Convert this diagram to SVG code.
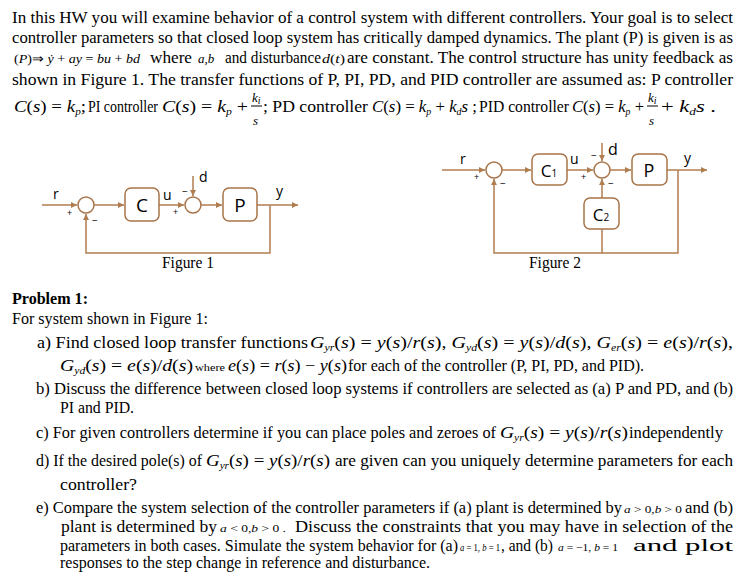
<svg xmlns="http://www.w3.org/2000/svg" width="745" height="574" viewBox="0 0 745 574">
<style>
text{font-family:"Liberation Serif",serif;font-size:16px;fill:#000}
.i{font-style:italic}
.s{font-size:10px}
.m{font-size:13px}
.f{font-size:17px}
.w{font-size:11px}
.b{font-weight:bold}
.l{font-family:"Open Sans","Liberation Sans",sans-serif;font-size:14px}
.bx{fill:#fff;stroke:#a8744a;stroke-width:1.5}
.ln{fill:none;stroke:#b07d50;stroke-width:1.5}
</style>
<defs><marker id="a" markerWidth="8" markerHeight="8" refX="6" refY="3" orient="auto" markerUnits="userSpaceOnUse"><path d="M0,0 L6,3 L0,6z" fill="#b07d50"/></marker></defs>
<rect width="745" height="574" fill="#fff"/>
<text x="12" y="23" textLength="721" lengthAdjust="spacingAndGlyphs">In this HW you will examine behavior of a control system with different controllers. Your goal is to select</text>
<text x="12" y="43" textLength="721" lengthAdjust="spacingAndGlyphs">controller parameters so that closed loop system has critically damped dynamics. The plant (P) is given is as</text>
<text x="14" y="63" class="m" textLength="126" lengthAdjust="spacingAndGlyphs">(<tspan class="i">P</tspan>)⇒ <tspan class="i">ẏ</tspan> + <tspan class="i">ay</tspan> = <tspan class="i">bu</tspan> + <tspan class="i">bd</tspan></text>
<text x="150" y="63" textLength="42" lengthAdjust="spacingAndGlyphs">where</text>
<text x="198" y="63" class="i m">a,b</text>
<text x="225" y="63" textLength="96" lengthAdjust="spacingAndGlyphs">and disturbance</text>
<text x="322" y="63" class="m" textLength="23" lengthAdjust="spacingAndGlyphs"><tspan class="i">d</tspan>(<tspan class="i">t</tspan>)</text>
<text x="347" y="63" textLength="386" lengthAdjust="spacingAndGlyphs">are constant. The control structure has unity feedback as</text>
<text x="12" y="85" textLength="721" lengthAdjust="spacingAndGlyphs">shown in Figure 1. The transfer functions of P, PI, PD, and PID controller are assumed as: P controller</text>
<g id="line5">
<text x="14" y="112" class="f" textLength="72" lengthAdjust="spacingAndGlyphs"><tspan class="i">C</tspan>(<tspan class="i">s</tspan>) = <tspan class="i">k</tspan><tspan class="i s" dy="3">p</tspan><tspan dy="-3">;</tspan></text>
<text x="88" y="112" textLength="70" lengthAdjust="spacingAndGlyphs">PI controller</text>
<text x="162" y="112" class="f" textLength="86" lengthAdjust="spacingAndGlyphs"><tspan class="i">C</tspan>(<tspan class="i">s</tspan>) = <tspan class="i">k</tspan><tspan class="i s" dy="3">p</tspan><tspan dy="-3"> +</tspan></text>
<text x="252" y="102" class="i m">k<tspan class="s" dy="2">i</tspan></text>
<line x1="251" y1="106" x2="262" y2="106" stroke="#000"/>
<text x="253" y="125" class="i m">s</text>
<text x="263" y="112" textLength="105" lengthAdjust="spacingAndGlyphs">; PD controller</text>
<text x="372" y="112" class="f" textLength="105" lengthAdjust="spacingAndGlyphs"><tspan class="i">C</tspan>(<tspan class="i">s</tspan>) = <tspan class="i">k</tspan><tspan class="i s" dy="3">p</tspan><tspan dy="-3"> + </tspan><tspan class="i">k</tspan><tspan class="i s" dy="3">d</tspan><tspan class="i" dy="-3">s</tspan> ;</text>
<text x="479" y="112" textLength="90" lengthAdjust="spacingAndGlyphs">PID controller</text>
<text x="572" y="112" class="f" textLength="72" lengthAdjust="spacingAndGlyphs"><tspan class="i">C</tspan>(<tspan class="i">s</tspan>) = <tspan class="i">k</tspan><tspan class="i s" dy="3">p</tspan><tspan dy="-3"> +</tspan></text>
<text x="648" y="102" class="i m">k<tspan class="s" dy="2">i</tspan></text>
<line x1="647" y1="106" x2="658" y2="106" stroke="#000"/>
<text x="649" y="125" class="i m">s</text>
<text x="661" y="112" class="f" textLength="55" lengthAdjust="spacingAndGlyphs">+ <tspan class="i">k</tspan><tspan class="i s" dy="3">d</tspan><tspan class="i" dy="-3">s</tspan> .</text>
</g>
<g id="connectors">
<path class="ln" d="M42,205 H77" marker-end="url(#a)"/>
<path class="ln" d="M94,205 H124" marker-end="url(#a)"/>
<path class="ln" d="M159,205 H184" marker-end="url(#a)"/>
<path class="ln" d="M193,176 V196" marker-end="url(#a)"/>
<path class="ln" d="M201,205 H222" marker-end="url(#a)"/>
<path class="ln" d="M257,205 H298" marker-end="url(#a)"/>
<path class="ln" d="M270,205 V253 H86 V214" marker-end="url(#a)"/>
<path class="ln" d="M442,170 H485" marker-end="url(#a)"/>
<path class="ln" d="M502,170 H531" marker-end="url(#a)"/>
<path class="ln" d="M567,170 H593" marker-end="url(#a)"/>
<path class="ln" d="M602,143 V161" marker-end="url(#a)"/>
<path class="ln" d="M610,170 H631" marker-end="url(#a)"/>
<path class="ln" d="M667,170 H707" marker-end="url(#a)"/>
<path class="ln" d="M678,170 V253 H494 V179" marker-end="url(#a)"/>
<path class="ln" d="M602,253 V229"/>
<path class="ln" d="M602,198 V179" marker-end="url(#a)"/>
</g>
<g id="sum1"><circle class="bx" cx="86" cy="205" r="8"/></g>
<g id="C"><rect class="bx" x="125" y="188" width="34" height="33" rx="6"/><text class="l" x="142" y="212" text-anchor="middle" style="font-size:19px">C</text></g>
<g id="sum2"><circle class="bx" cx="193" cy="205" r="8"/></g>
<g id="P1"><rect class="bx" x="223" y="188" width="34" height="33" rx="6"/><text class="l" x="240" y="212" text-anchor="middle" style="font-size:19px">P</text></g>
<g id="fig1labels">
<text class="l" x="53" y="199">r</text>
<text class="l" x="67" y="216" style="font-size:9px">+</text>
<text class="l" x="92" y="224" style="font-size:10px">−</text>
<text class="l" x="163" y="200">u</text>
<text class="l" x="182" y="195" style="font-size:10px">−</text>
<text class="l" x="173" y="215" style="font-size:9px">+</text>
<text class="l" x="199" y="182">d</text>
<text class="l" x="276" y="196">y</text>
<text x="188" y="268" text-anchor="middle" textLength="52" lengthAdjust="spacingAndGlyphs">Figure 1</text>
</g>
<g id="s21"><circle class="bx" cx="494" cy="170" r="8"/></g>
<g id="C1"><rect class="bx" x="532" y="154" width="35" height="31" rx="6"/><text class="l" x="549" y="177" text-anchor="middle" style="font-size:17px">C<tspan style="font-size:10px">1</tspan></text></g>
<g id="s22"><circle class="bx" cx="602" cy="170" r="8"/></g>
<g id="P2"><rect class="bx" x="632" y="154" width="35" height="31" rx="6"/><text class="l" x="649" y="177" text-anchor="middle" style="font-size:18px">P</text></g>
<g id="C2"><rect class="bx" x="584" y="198" width="35" height="31" rx="6"/><text class="l" x="601" y="221" text-anchor="middle" style="font-size:17px">C<tspan style="font-size:10px">2</tspan></text></g>
<g id="fig2labels">
<text class="l" x="460" y="164">r</text>
<text class="l" x="474" y="180" style="font-size:9px">+</text>
<text class="l" x="500" y="187" style="font-size:10px">−</text>
<text class="l" x="570" y="164">u</text>
<text class="l" x="591" y="159" style="font-size:10px">−</text>
<text class="l" x="581" y="180" style="font-size:9px">+</text>
<text class="l" x="608" y="187" style="font-size:10px">−</text>
<text class="l" x="608" y="155" style="font-size:16px">d</text>
<text class="l" x="684" y="163">y</text>
<text x="555" y="268" text-anchor="middle" textLength="52" lengthAdjust="spacingAndGlyphs">Figure 2</text>
</g>
<text x="12" y="304" class="b" textLength="76" lengthAdjust="spacingAndGlyphs">Problem 1:</text>
<text x="12" y="324" textLength="196" lengthAdjust="spacingAndGlyphs">For system shown in Figure 1:</text>
<text x="37" y="348" textLength="271" lengthAdjust="spacingAndGlyphs">a)  Find  closed  loop  transfer  functions</text>
<text x="310" y="348" class="f" textLength="423" lengthAdjust="spacingAndGlyphs"><tspan class="i">G</tspan><tspan class="i s" dy="3">yr</tspan><tspan dy="-3">(</tspan><tspan class="i">s</tspan>) = <tspan class="i">y</tspan>(<tspan class="i">s</tspan>)/<tspan class="i">r</tspan>(<tspan class="i">s</tspan>),  <tspan class="i">G</tspan><tspan class="i s" dy="3">yd</tspan><tspan dy="-3">(</tspan><tspan class="i">s</tspan>) = <tspan class="i">y</tspan>(<tspan class="i">s</tspan>)/<tspan class="i">d</tspan>(<tspan class="i">s</tspan>),  <tspan class="i">G</tspan><tspan class="i s" dy="3">er</tspan><tspan dy="-3">(</tspan><tspan class="i">s</tspan>) = <tspan class="i">e</tspan>(<tspan class="i">s</tspan>)/<tspan class="i">r</tspan>(<tspan class="i">s</tspan>),</text>
<text x="60" y="371" class="f" textLength="133" lengthAdjust="spacingAndGlyphs"><tspan class="i">G</tspan><tspan class="i s" dy="3">yd</tspan><tspan dy="-3">(</tspan><tspan class="i">s</tspan>) = <tspan class="i">e</tspan>(<tspan class="i">s</tspan>)/<tspan class="i">d</tspan>(<tspan class="i">s</tspan>)</text>
<text x="195" y="371" class="w" textLength="30" lengthAdjust="spacingAndGlyphs">where</text>
<text x="228" y="371" class="f" textLength="119" lengthAdjust="spacingAndGlyphs"><tspan class="i">e</tspan>(<tspan class="i">s</tspan>) = <tspan class="i">r</tspan>(<tspan class="i">s</tspan>) − <tspan class="i">y</tspan>(<tspan class="i">s</tspan>)</text>
<text x="348" y="371" textLength="296" lengthAdjust="spacingAndGlyphs">for each of the controller (P, PI, PD, and PID).</text>
<text x="36" y="394" textLength="697" lengthAdjust="spacingAndGlyphs">b)  Discuss the difference between closed loop systems if controllers are selected as (a) P and PD, and (b)</text>
<text x="60" y="413" textLength="74" lengthAdjust="spacingAndGlyphs">PI and PID.</text>
<text x="36" y="438" textLength="460" lengthAdjust="spacingAndGlyphs">c)  For given controllers determine if you can place poles and zeroes of</text>
<text x="500" y="438" class="f" textLength="128" lengthAdjust="spacingAndGlyphs"><tspan class="i">G</tspan><tspan class="i s" dy="3">yr</tspan><tspan dy="-3">(</tspan><tspan class="i">s</tspan>) = <tspan class="i">y</tspan>(<tspan class="i">s</tspan>)/<tspan class="i">r</tspan>(<tspan class="i">s</tspan>)</text>
<text x="629" y="438" textLength="94" lengthAdjust="spacingAndGlyphs">independently</text>
<text x="36" y="466" textLength="166" lengthAdjust="spacingAndGlyphs">d)  If the desired pole(s) of</text>
<text x="206" y="466" class="f" textLength="124" lengthAdjust="spacingAndGlyphs"><tspan class="i">G</tspan><tspan class="i s" dy="3">yr</tspan><tspan dy="-3">(</tspan><tspan class="i">s</tspan>) = <tspan class="i">y</tspan>(<tspan class="i">s</tspan>)/<tspan class="i">r</tspan>(<tspan class="i">s</tspan>)</text>
<text x="335" y="466" textLength="398" lengthAdjust="spacingAndGlyphs">are given can you uniquely determine parameters for each</text>
<text x="60" y="490" textLength="77" lengthAdjust="spacingAndGlyphs">controller?</text>
<text x="36" y="513" textLength="586" lengthAdjust="spacingAndGlyphs">e)  Compare the system selection of the controller parameters if (a) plant is determined by</text>
<text x="624" y="513" class="w" textLength="58" lengthAdjust="spacingAndGlyphs"><tspan class="i">a</tspan> &gt; 0,<tspan class="i">b</tspan> &gt; 0</text>
<text x="685" y="513" textLength="48" lengthAdjust="spacingAndGlyphs">and (b)</text>
<text x="61" y="532" textLength="156" lengthAdjust="spacingAndGlyphs">plant  is  determined  by</text>
<text x="220" y="532" class="w" textLength="66" lengthAdjust="spacingAndGlyphs"><tspan class="i">a</tspan> &lt; 0,<tspan class="i">b</tspan> &gt; 0 .</text>
<text x="295" y="532" textLength="438" lengthAdjust="spacingAndGlyphs">Discuss  the  constraints  that  you  may  have  in  selection  of  the</text>
<text x="60" y="551" textLength="398" lengthAdjust="spacingAndGlyphs">parameters in both cases. Simulate the system behavior for (a)</text>
<text x="460" y="551" class="w" textLength="40" lengthAdjust="spacingAndGlyphs"><tspan class="i">a</tspan> = 1, <tspan class="i">b</tspan> = 1</text>
<text x="501" y="551" textLength="52" lengthAdjust="spacingAndGlyphs">, and (b)</text>
<text x="558" y="551" class="w" textLength="60" lengthAdjust="spacingAndGlyphs"><tspan class="i">a</tspan> = −1, <tspan class="i">b</tspan> = 1</text>
<text x="633" y="551" textLength="100" lengthAdjust="spacingAndGlyphs">and  plot</text>
<text x="60" y="568" textLength="370" lengthAdjust="spacingAndGlyphs">responses to the step change in reference and disturbance.</text>
</svg>
